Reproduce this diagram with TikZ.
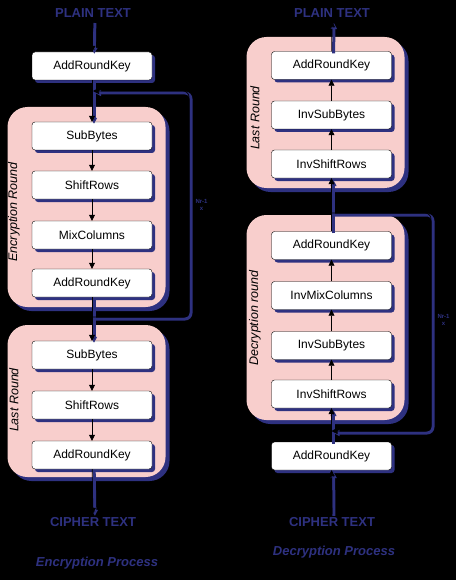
\documentclass[tikz,border=0pt]{standalone}
\usepackage{fontspec}
\setmainfont{Liberation Sans}
\usetikzlibrary{arrows.meta}
\usetikzlibrary{shadows}
\usetikzlibrary{positioning}
\definecolor{navy}{RGB}{46,49,128}
\definecolor{roundpink}{RGB}{248,206,204}

\begin{document}
\begin{tikzpicture}[x=1pt,y=-1pt,
    >={Triangle[width=6pt,length=6pt]},
    stepbox/.style = {rectangle, rounded corners=3pt, draw=black, fill=white,
                   minimum width=120pt, minimum height=28pt,
                   text centered, font=\fontsize{12}{14}\selectfont,
                   drop shadow={shadow xshift=3pt, shadow yshift=-3pt,
                                fill=navy, opacity=1}},
    roundbox/.style = {rectangle, rounded corners=20pt, fill=roundpink,
                   minimum width=158pt,
                   drop shadow={shadow xshift=4pt, shadow yshift=-4pt,
                                fill=navy, opacity=1}},
    roundlabel/.style = {rotate=90, font=\itshape\fontsize{12.5}{14}\selectfont},
    title/.style = {text=navy, font=\bfseries\fontsize{13}{15}\selectfont},
    process/.style = {title, font=\bfseries\itshape\fontsize{13}{15}\selectfont},
    looplabel/.style = {text=navy, align=center, font=\bfseries\fontsize{6}{6.5}\selectfont},
    shadowwire/.style = {draw=navy, line width=3pt,
                   transform canvas={shift={(2pt,-2pt)}}},
    wire/.style = {draw=black, line width=0.7pt}]
  \path[use as bounding box, fill=black] (0,0) rectangle (456,580);

  % encryption side
  \node (ptL) [title] at (93,13) {PLAIN TEXT};
  \node (arkL0) [stepbox] at (92,66) {AddRoundKey};
  \node (encR) [roundbox, minimum height=200pt] at (86.5,207) {};
  \node (sbL1) [stepbox] at (92,136) {SubBytes};
  \node (srL1) [stepbox] at (92,185) {ShiftRows};
  \node (mcL1) [stepbox] at (92,235) {MixColumns};
  \node (arkL1) [stepbox] at (92,283) {AddRoundKey};
  \node [roundlabel] at (14,212) {Encryption Round};

  \node (lastL) [roundbox, minimum height=152pt] at (86.5,401) {};
  \node (sbL2) [stepbox] at (92,355) {SubBytes};
  \node (srL2) [stepbox] at (92,405) {ShiftRows};
  \node (arkL2) [stepbox] at (92,455) {AddRoundKey};
  \node [roundlabel] at (14,400) {Last Round};

  \node (ctL) [title] at (93,522) {CIPHER TEXT};
  \node (procL) [process] at (97,563) {Encryption Process};

  \coordinate (loopLb) at (93,317);
  \coordinate (loopLx) at (189,205);
  \coordinate (loopLt) at (93,91);
  \node [looplabel, right=3pt of loopLx] {Nr-1\\x};

  % decryption side
  \node (ptR) [title] at (332,13) {PLAIN TEXT};
  \node (lastR) [roundbox, minimum height=151pt] at (325.5,112.5) {};
  \node (arkR2) [stepbox] at (331.5,65.5) {AddRoundKey};
  \node (isbR2) [stepbox] at (331.5,115) {InvSubBytes};
  \node (isrR2) [stepbox] at (331.5,164) {InvShiftRows};
  \node [roundlabel] at (255,118) {Last Round};

  \node (decR) [roundbox, minimum height=205pt] at (325.5,317.5) {};
  \node (arkR1) [stepbox] at (331.5,245.5) {AddRoundKey};
  \node (imcR1) [stepbox] at (331.5,295.5) {InvMixColumns};
  \node (isbR1) [stepbox] at (331.5,345.5) {InvSubBytes};
  \node (isrR1) [stepbox] at (331.5,394) {InvShiftRows};
  \node [roundlabel] at (255,318) {Decryption round};

  \node (arkR0) [stepbox] at (331.5,456) {AddRoundKey};
  \node (ctR) [title] at (332,522) {CIPHER TEXT};
  \node (procR) [process] at (334,552) {Decryption Process};

  \coordinate (loopRt) at (331.5,213);
  \coordinate (loopRx) at (431,320);
  \coordinate (loopRb) at (331.5,431);
  \node [looplabel, right=3pt of loopRx] {Nr-1\\x};

  % links between the rounds, with their shadow
  \foreach \w in {shadowwire,wire} {
    \path[->,\w]
      (ptL) edge (arkL0)
      (arkL0) edge (sbL1)
      (arkL1) edge (sbL2)
      (arkL2) edge (ctL);
    \draw[->,\w,rounded corners=6pt] (loopLb) -| (loopLx) |- (loopLt);

    \path[->,\w]
      (ctR) edge (arkR0)
      (arkR0) edge (isrR1)
      (arkR1) edge (isrR2)
      (arkR2) edge (ptR);
    \draw[->,\w,rounded corners=6pt] (loopRt) -| (loopRx) |- (loopRb);
  }

  % steps inside a round
  \path[->,wire]
    (sbL1) edge (srL1)
    (srL1) edge (mcL1)
    (mcL1) edge (arkL1)
    (sbL2) edge (srL2)
    (srL2) edge (arkL2);
  \path[->,wire]
    (isrR1) edge (isbR1)
    (isbR1) edge (imcR1)
    (imcR1) edge (arkR1)
    (isrR2) edge (isbR2)
    (isbR2) edge (arkR2);
\end{tikzpicture}
\end{document}
